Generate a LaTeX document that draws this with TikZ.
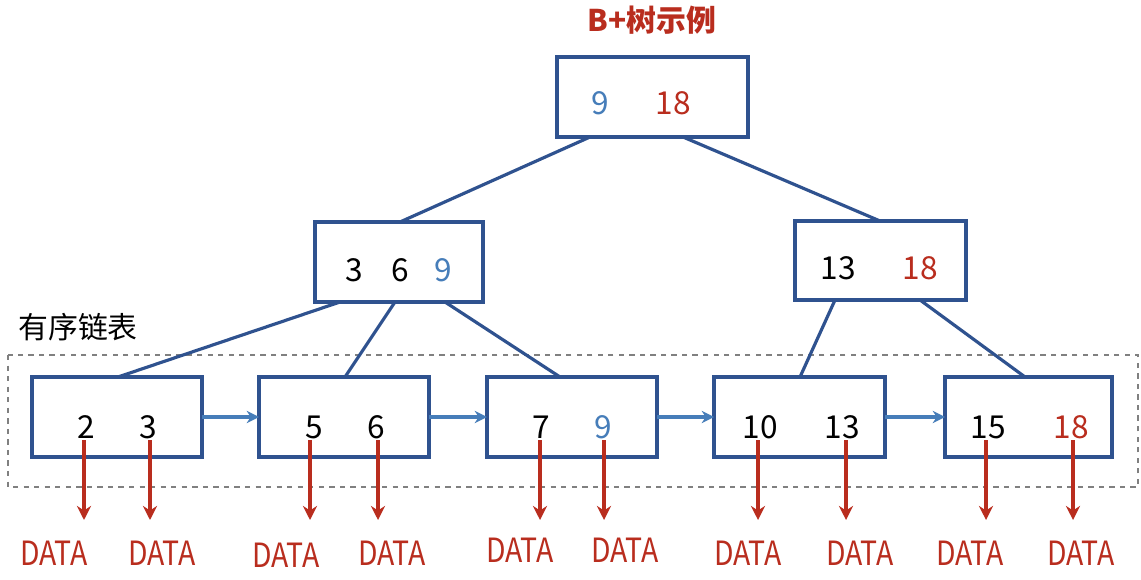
\documentclass[tikz,border=0pt]{standalone}
\usepackage{fontspec}
\setmainfont{Noto Sans CJK SC}
\usetikzlibrary{arrows.meta}
\definecolor{bx}{RGB}{47,82,143}
\definecolor{bt}{RGB}{70,125,185}
\definecolor{rd}{RGB}{185,45,30}
\begin{document}
\begin{tikzpicture}[x=0.02cm,y=-0.02cm,
 box/.style={draw=bx,line width=2pt},
 ln/.style={draw=bx,line width=1.8pt},
 num/.style={font=\fontsize{18}{18}\selectfont},
 dat/.style={font=\fontsize{19}{19}\selectfont,text=rd,xscale=0.85,transform shape},
 lk/.style={draw=bt,line width=1.8pt,-{Stealth[length=7pt,width=7pt]}},
 dn/.style={draw=rd,line width=1.8pt,-{Stealth[length=8pt,width=8pt]}}]
\useasboundingbox (0,0) rectangle (1141,580);
\fill[white] (0,0) rectangle (1141,580);
\draw[gray,dashed,line width=0.9pt] (8,355) rectangle (1138,487);
\node[font=\fontsize{17}{17}\selectfont] (lbl) at (78,327) {有序链表};
\node[font=\bfseries\fontsize{17}{17}\selectfont,text=rd] (title) at (652,20) {B+树示例};
\draw[box] (557,57) rectangle (748,137);
\node[num,text=bt] at (600,103) {9}; \node[num,text=rd] at (673,103) {18};
\draw[box] (315,222) rectangle (483,302);
\node[num] at (354,270) {3}; \node[num] at (400,270) {6}; \node[num,text=bt] at (443,270) {9};
\draw[box] (795,221) rectangle (966,300);
\node[num] at (838,268) {13}; \node[num,text=rd] at (920,268) {18};
\foreach \a/\b/\n in {32/202/1,259/429/2,487/657/3,714/885/4,945/1112/5}{
 \draw[box] (\a,377) rectangle (\b,457);
 \coordinate (L\n w) at (\a,417); \coordinate (L\n e) at (\b,417);}
\foreach \i/\j in {1/2,2/3,3/4,4/5} \draw[lk] (L\i e) -- (L\j w);
\node[num] at (86,427) {2}; \node[num] at (148,427) {3};
\node[num] at (314,427) {5}; \node[num] at (376,427) {6};
\node[num] at (541,427) {7}; \node[num,text=bt] at (603,427) {9};
\node[num] at (760,427) {10}; \node[num] at (842,427) {13};
\node[num] at (988,427) {15}; \node[num,text=rd] at (1071,427) {18};
\draw[ln] (590,137) -- (400,222); \draw[ln] (683,137) -- (880,221);
\draw[ln] (340,302) -- (118,377); \draw[ln] (395,302) -- (345,377); \draw[ln] (445,302) -- (560,377);
\draw[ln] (835,300) -- (800,377); \draw[ln] (920,300) -- (1025,377);
\foreach \x in {84,150,310,378,540,604,758,846,986,1073} \draw[dn] (\x,440) -- (\x,520);
\foreach \x/\d in {54/553,162/553,286/555,392/553,520/550,625/550,748/553,860/553,970/553,1081/553}
 \node[dat] at (\x,\d) {DATA};
\end{tikzpicture}
\end{document}
